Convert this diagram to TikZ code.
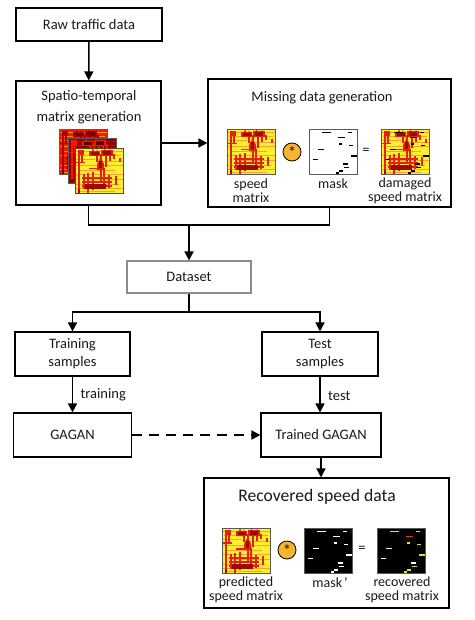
\documentclass[tikz,border=0pt]{standalone}
\usepackage{fontspec}
\setmainfont{Carlito}
\usetikzlibrary{arrows.meta}
\definecolor{txt}{HTML}{1A1A1A}
\definecolor{hmyel}{HTML}{FFEE30}
\definecolor{hmora}{HTML}{F7A42A}
\definecolor{hmred}{HTML}{E0220E}
\definecolor{hmdred}{HTML}{A00808}
\definecolor{opfill}{HTML}{F7B52E}
\definecolor{recyel}{HTML}{DDE23A}
\definecolor{recred}{HTML}{E03A1E}
\newcommand\speedmat{%
  \fill[hmyel] (0,0) rectangle (48,45);
  \foreach \y/\a/\b in {3/0/48,7/2/46,11/0/20,13/24/48,17/0/48,22/4/40,26/0/48,31/10/48,36/0/44,40/0/48,43/5/40}
    \fill[hmora] (\a,\y) rectangle (\b,\y+1.2);
  \fill[hmred] (3,2) rectangle (9,7);
  \fill[hmred] (14,3) rectangle (25,8);
  \fill[hmred] (26,2) rectangle (38,8);
  \fill[hmred] (15,8) -- (18,0) -- (21,8) -- cycle;
  \fill[hmred] (27,8) -- (29.5,0) -- (32,8) -- cycle;
  \fill[hmred] (33,8) -- (35,0.5) -- (37,8) -- cycle;
  \fill[hmred] (20,8) -- (22,1) -- (24,8) -- cycle;
  \foreach \x/\t/\b in {3/6/45,6/6/14,21/6/14,25/6/33,30/6/19,34/6/13,12/25/45,17/24/42,28/20/40,33/27/40,40/28/37,8/26/41,44/10/14,38/6/11}
    \fill[hmred] (\x,\t) rectangle (\x+1.6,\b);
  \fill[hmred] (22,16) -- (25.5,9) -- (29,16) -- (29,22) -- (22,22) -- cycle;
  \foreach \y in {29,33,37}
    \fill[hmred] (7,\y) rectangle (37,\y+1.6);
  \fill[hmred] (1,14) rectangle (10,15.5);
  \fill[hmred] (14,20) rectangle (22,21.5);
  \fill[hmdred] (10,36) rectangle (31,41);
  \fill[hmdred] (16,4) rectangle (24,7);
  \fill[hmdred] (28,3) rectangle (36,7);
  \fill[hmdred] (24,13) rectangle (27,20);
  \fill[hmdred] (3,41) rectangle (5,45);
}
\newcommand\maskbars[1]{%
  \foreach \a/\b/\y in {13/22/3.5,38.7/42.7/3.5,29.3/36/8.7,30/33/15,40/43.7/16.7,8.7/15.3/20.3,42/47.5/27,4.3/9.3/30.3,34.3/39.3/35,35.3/40/38.3,30/34.3/42,27/30/44}
    \fill[#1] (\a,\y-0.75) rectangle (\b,\y+0.75);
}
\newcommand\recbars{%
  \foreach \a/\b/\y/\c in {13/22/3.5/recyel,38.7/42.7/3.5/recyel,29.3/36/8.7/recred,30/33/15/recyel,40/43.7/16.7/recyel,8.7/15.3/20.3/recyel!40!white,42/47.5/27/recyel,4.3/9.3/30.3/white,34.3/39.3/35/white,35.3/40/38.3/recyel,30/34.3/42/recyel,27/30/44/recyel}
    \fill[\c] (\a,\y-0.75) rectangle (\b,\y+0.75);
}
\begin{document}
\begin{tikzpicture}[x=1pt,y=-1pt,
  font=\fontsize{14.5}{18}\selectfont, text=txt,
  box/.style={draw=black, line width=1.1pt, minimum width=#1, inner sep=0pt},
  conn/.style={line width=1.5pt, draw=black},
  arr/.style={conn, -{Triangle[length=9pt,width=9pt]}},
  frame/.style={draw=black!65, line width=0.6pt, minimum width=48pt, minimum height=45pt, inner sep=0pt},
  lbl/.style={align=center, font=\fontsize{14}{14}\selectfont},
  opnode/.style={circle, draw=black, line width=0.8pt, fill=opfill, minimum size=18pt, inner sep=0pt, font=\fontsize{17}{17}\selectfont}]
\useasboundingbox (0,0) rectangle (474,620);
\fill[white] (0,0) rectangle (474,620);

% main boxes
\node[box=146pt, minimum height=33pt] (raw) at (89,24.5) {Raw traffic data};
\node[box=145pt, minimum height=124pt] (spatio) at (88.5,143) {};
\node[align=center, font=\fontsize{14.5}{21}\selectfont] (spatiot) at (89,107.5) {Spatio-temporal\\matrix generation};
\node[box=243pt, minimum height=128pt] (miss) at (329.5,143) {};
\node (misst) at (322,98) {Missing data generation};
\node[box=124pt, minimum height=32pt, draw=black!45] (dataset) at (189,277) {Dataset};
\node[box=115pt, minimum height=44pt, align=center] (train) at (72.5,354) {Training\\samples};
\node[box=116pt, minimum height=44pt, align=center] (test) at (320,354) {Test\\samples};
\node[box=118pt, minimum height=44pt] (gagan) at (72.5,435) {GAGAN};
\node[box=120pt, minimum height=44pt] (trained) at (321,435) {Trained GAGAN};
\node[box=245pt, minimum height=130pt] (rec) at (326.5,543) {};
\node[font=\fontsize{17.6}{20}\selectfont] (rect) at (317,497) {Recovered speed data};

% stacked matrices in spatio box
\begin{scope}[shift={(59,129)}]
  \colorlet{hmyel}{red!80!orange!95!black}
  \colorlet{hmora}{orange!85!yellow}
  \colorlet{hmred}{red!70!black}
  \colorlet{hmdred}{red!45!black}
  \speedmat
\end{scope}
\node[frame, anchor=north west] (st1) at (59,129) {};
\begin{scope}[shift={(68,138)}]
  \colorlet{hmyel}{red!60!black}
  \colorlet{hmora}{red!80!black}
  \colorlet{hmred}{red!85!orange}
  \colorlet{hmdred}{red!30!black}
  \speedmat
\end{scope}
\node[frame, anchor=north west] (st2) at (68,138) {};
\begin{scope}[shift={(75,148)}]
  \speedmat
\end{scope}
\node[frame, anchor=north west, draw=black!60!olive] (st3) at (75,148) {};

% missing data generation
\begin{scope}[shift={(227,129)}]
  \speedmat
\end{scope}
\node[frame, anchor=north west] (sm) at (227,129) {};
\node[opnode] (op1) at (292,152) {\raisebox{-4pt}{*}};
\begin{scope}[shift={(309,129)}]
  \fill[white] (0,0) rectangle (48,45);
  \maskbars{black}
\end{scope}
\node[frame, anchor=north west] (mask) at (309,129) {};
\node (eq1) at (366,151) {=};
\begin{scope}[shift={(381,129)}]
  \speedmat
  \maskbars{black}
\end{scope}
\node[frame, anchor=north west] (dm) at (381,129) {};
\node[lbl] (smlbl) at (251,190.5) {speed\\matrix};
\node[lbl] (masklbl) at (333,184) {mask};
\node[lbl] (dmlbl) at (405,190.5) {damaged\\speed matrix};

% recovered speed data
\begin{scope}[shift={(222,528)}]
  \speedmat
\end{scope}
\node[frame, anchor=north west] (pm) at (222,528) {};
\node[opnode] (op2) at (287,550) {\raisebox{-4pt}{*}};
\begin{scope}[shift={(304,528)}]
  \fill[black] (0,0) rectangle (48,45);
  \maskbars{white}
\end{scope}
\node[frame, anchor=north west] (mask2) at (304,528) {};
\node (eq2) at (362,549) {=};
\begin{scope}[shift={(377,528)}]
  \fill[black] (0,0) rectangle (48,45);
  \recbars
\end{scope}
\node[frame, anchor=north west] (rm) at (377,528) {};
\node[lbl] (pmlbl) at (246,589.5) {predicted\\speed matrix};
\node[lbl] (mask2lbl) at (330,583) {mask\kern2pt’};
\node[lbl] (rmlbl) at (402,589.5) {recovered\\speed matrix};

% connectors
\coordinate (j1) at (189,225);
\coordinate (j2) at (189,312);
\draw[arr] (raw) -- (spatio);
\draw[arr] (spatio.east) -- (miss.west);
\draw[conn] (spatio.south) |- (j1);
\draw[conn] (miss.south) |- (j1);
\draw[arr] (j1) -- (dataset.north);
\draw[conn] (dataset.south) -- (j2);
\draw[arr] (j2) -| (train.north);
\draw[arr] (j2) -| (test.north);
\draw[arr] (train) -- node[right=4pt, pos=0.5] (trl) {training} (gagan);
\draw[arr] (test.south) -- node[right=4pt, pos=0.55] (tel) {test} (test.south |- trained.north);
\draw[arr, dashed, dash pattern=on 10pt off 7pt] (gagan.east) -- (trained.west);
\draw[arr] (trained.south) -- (trained.south |- rec.north);
\end{tikzpicture}
\end{document}
